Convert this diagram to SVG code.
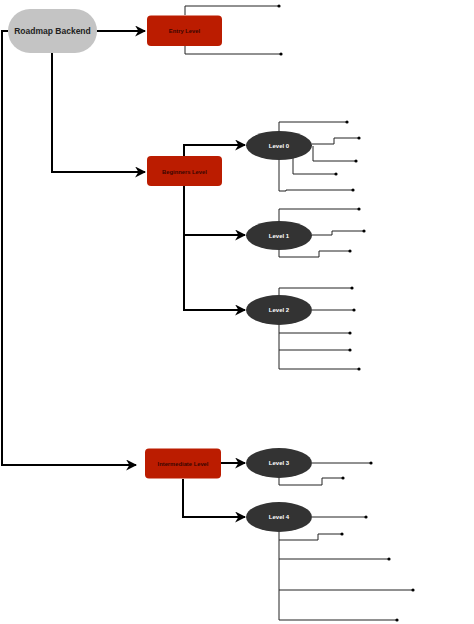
<svg xmlns="http://www.w3.org/2000/svg" width="474" height="624" viewBox="0 0 474 624">
<style>
.main{fill:none;stroke:#000;stroke-width:2;}
.br{fill:none;stroke:#222;stroke-width:1;}
.red{fill:#bb1c00;}
.ell{fill:#333;}
.rt{font-family:"Liberation Sans",Arial,sans-serif;font-size:5.8px;font-weight:bold;fill:#3a0500;text-anchor:middle;dominant-baseline:central;}
.et{font-family:"Liberation Sans",Arial,sans-serif;font-size:6px;font-weight:bold;fill:#fff;text-anchor:middle;dominant-baseline:central;}
.dot{fill:#000;}
</style>
<defs>
<marker id="ah" viewBox="0 0 10 10" refX="9" refY="5" markerWidth="5.5" markerHeight="5.5" orient="auto" markerUnits="strokeWidth">
<path d="M0,0 L10,5 L0,10 L3,5 Z" fill="#000"/>
</marker>
</defs>
<g id="connectors">
<path class="main" d="M8,31 H2 V465 H136" marker-end="url(#ah)"/>
<path class="main" d="M97,31 H145" marker-end="url(#ah)"/>
<path class="main" d="M52,53 V172 H145" marker-end="url(#ah)"/>
<path class="main" d="M184,156 V145 H245" marker-end="url(#ah)"/>
<path class="main" d="M184,186 V310 H245" marker-end="url(#ah)"/>
<path class="main" d="M184,235 H245" marker-end="url(#ah)"/>
<path class="main" d="M221,463 H245" marker-end="url(#ah)"/>
<path class="main" d="M183,479 V517 H245" marker-end="url(#ah)"/>
<path class="br" d="M185,15 V6 H279"/>
<path class="br" d="M185,46 V54 H281"/>
<path class="br" d="M279,131 V122 H347"/>
<path class="br" d="M312,144 H334 V138 H359"/>
<path class="br" d="M313,146 V161 H356"/>
<path class="br" d="M293,158 V174 H336"/>
<path class="br" d="M279,160 V191 H286 V190 H353"/>
<path class="br" d="M279,221 V209 H359"/>
<path class="br" d="M312,235 H332 V231 H364"/>
<path class="br" d="M279,250 V257 H319 V251 H350"/>
<path class="br" d="M279,295 V288 H352"/>
<path class="br" d="M312,310 H354"/>
<path class="br" d="M279,325 V369 H359"/>
<path class="br" d="M279,333 H350"/>
<path class="br" d="M279,350 H350"/>
<path class="br" d="M312,463 H371"/>
<path class="br" d="M279,478 V485 H322 V478 H343"/>
<path class="br" d="M312,517 H366"/>
<path class="br" d="M279,532 V620 H397"/>
<path class="br" d="M279,540 H318 V534 H342"/>
<path class="br" d="M279,559 H389"/>
<path class="br" d="M279,590 H413"/>
<g class="dot">
<circle cx="279" cy="6" r="1.6"/>
<circle cx="281" cy="54" r="1.6"/>
<circle cx="347" cy="122" r="1.6"/>
<circle cx="359" cy="138" r="1.6"/>
<circle cx="356" cy="161" r="1.6"/>
<circle cx="336" cy="174" r="1.6"/>
<circle cx="353" cy="190" r="1.6"/>
<circle cx="359" cy="209" r="1.6"/>
<circle cx="364" cy="231" r="1.6"/>
<circle cx="350" cy="251" r="1.6"/>
<circle cx="352" cy="288" r="1.6"/>
<circle cx="354" cy="310" r="1.6"/>
<circle cx="350" cy="333" r="1.6"/>
<circle cx="350" cy="350" r="1.6"/>
<circle cx="359" cy="369" r="1.6"/>
<circle cx="371" cy="463" r="1.6"/>
<circle cx="343" cy="478" r="1.6"/>
<circle cx="366" cy="517" r="1.6"/>
<circle cx="342" cy="534" r="1.6"/>
<circle cx="389" cy="559" r="1.6"/>
<circle cx="413" cy="590" r="1.6"/>
<circle cx="397" cy="620" r="1.6"/>
</g>
</g>
<g id="roadmap-backend">
<rect x="8" y="9" width="89" height="44" rx="22" fill="#c4c4c4"/>
<text x="52.5" y="31" font-family="Liberation Sans,Arial,sans-serif" font-size="8.5" font-weight="bold" fill="#222" text-anchor="middle" dominant-baseline="central">Roadmap Backend</text>
</g>
<g id="entry-level">
<rect class="red" x="147" y="15.5" width="75" height="30.5" rx="4"/>
<text class="rt" x="184.5" y="31">Entry Level</text>
</g>
<g id="beginners-level">
<rect class="red" x="147" y="156" width="75" height="30" rx="4"/>
<text class="rt" x="184.5" y="171.5">Beginners Level</text>
</g>
<g id="intermediate-level">
<rect class="red" x="145" y="448.5" width="76" height="30" rx="4"/>
<text class="rt" x="183" y="463.5">Intermediate Level</text>
</g>
<g id="level-0">
<ellipse class="ell" cx="279" cy="145.5" rx="33" ry="14.5"/>
<text class="et" x="279" y="145.5">Level 0</text>
</g>
<g id="level-1">
<ellipse class="ell" cx="279" cy="235.5" rx="33" ry="14.5"/>
<text class="et" x="279" y="235.5">Level 1</text>
</g>
<g id="level-2">
<ellipse class="ell" cx="279" cy="310" rx="33" ry="15"/>
<text class="et" x="279" y="310">Level 2</text>
</g>
<g id="level-3">
<ellipse class="ell" cx="279" cy="463" rx="33" ry="15"/>
<text class="et" x="279" y="463">Level 3</text>
</g>
<g id="level-4">
<ellipse class="ell" cx="279" cy="517" rx="33" ry="15"/>
<text class="et" x="279" y="517">Level 4</text>
</g>
</svg>
